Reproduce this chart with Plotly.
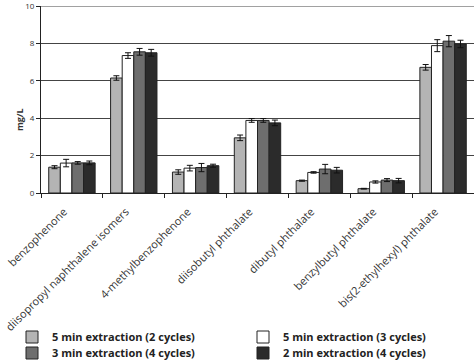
import plotly.graph_objects as go

categories = ["benzophenone", "diisopropyl naphthalene isomers", "4-methylbenzophenone",
              "diisobutyl phthalate", "dibutyl phthalate", "benzylbutyl phthalate",
              "bis(2-ethylhexyl) phthalate"]
series_names = ["5 min extraction (2 cycles)", "5 min extraction (3 cycles)",
                "3 min extraction (4 cycles)", "2 min extraction (4 cycles)"]
values = [
    [1.38, 6.15, 1.12, 2.95, 0.66, 0.23, 6.72],
    [1.60, 7.35, 1.33, 3.88, 1.10, 0.59, 7.88],
    [1.61, 7.55, 1.36, 3.88, 1.28, 0.69, 8.12],
    [1.61, 7.50, 1.46, 3.75, 1.22, 0.66, 7.97],
]
errors = [
    [0.08, 0.12, 0.12, 0.15, 0.03, 0.02, 0.15],
    [0.20, 0.15, 0.15, 0.10, 0.04, 0.06, 0.32],
    [0.07, 0.18, 0.22, 0.10, 0.25, 0.08, 0.30],
    [0.10, 0.18, 0.08, 0.15, 0.15, 0.12, 0.20],
]
colors = ["#b4b4b4", "#ffffff", "#6e6e6e", "#2b2b2b"]
y_ticks = [0, 2, 4, 6, 8, 10]
y_title = "mg/L"

legend_ids = ["legend", "legend2", "legend3", "legend4"]
legend_pos = [(12, 337), (243, 337), (12, 353), (243, 353)]

fig = go.Figure()
for name, vals, errs, col, lg in zip(series_names, values, errors, colors, legend_ids):
    fig.add_trace(go.Bar(
        name=name, x=categories, y=vals, legend=lg, showlegend=True,
        marker=dict(color=col, line=dict(color="#222", width=1)),
        error_y=dict(type="data", array=errs, color="#111", thickness=1, width=3),
    ))

legend_font = dict(size=11, color="#222", family="Open Sans", weight="bold")
legends = {}
for lg, (px, py) in zip(legend_ids, legend_pos):
    legends[lg] = dict(xref="container", yref="container", x=px / 474, xanchor="left",
                       y=1 - py / 360, yanchor="middle", font=legend_font, itemwidth=30,
                       tracegroupgap=0, bgcolor="rgba(0,0,0,0)", visible=True)

fig.update_layout(
    width=474, height=360, barmode="group", bargap=0.25, bargroupgap=0,
    plot_bgcolor="white", paper_bgcolor="white", showlegend=True,
    margin=dict(l=41, r=0, t=6, b=167, autoexpand=False),
    font=dict(family="Open Sans", color="#333"),
    xaxis=dict(tickangle=-45, tickson="boundaries", ticks="outside", ticklen=4,
               tickcolor="#222", showline=True, linecolor="#222", linewidth=1,
               ticklabelshift=-8, ticklabelstandoff=7,
               tickfont=dict(size=11, color="#333"), showgrid=False, automargin=False),
    yaxis=dict(range=[0, 10], tickvals=y_ticks, ticks="outside", ticklen=4, tickcolor="#222",
               showline=True, linecolor="#222", linewidth=1, showgrid=True, automargin=False,
               ticklabeloverflow="allow",
               gridcolor="#444", gridwidth=1, tickfont=dict(size=8, color="#333")),
    annotations=[dict(text="<b>" + y_title + "</b>", xref="paper", yref="paper",
                      x=-22 / 433, y=0.39, xanchor="center", yanchor="middle",
                      textangle=-90, showarrow=False, font=dict(size=9, color="#333"))],
    shapes=[dict(type="line", xref="paper", yref="y", x0=0, x1=1,
                 y0=y_ticks[-1], y1=y_ticks[-1], line=dict(color="#444", width=1),
                 layer="below")],
    **legends,
)
fig.write_html("out.html", config={"displayModeBar": False},
               post_script="document.body.style.margin='0';")
